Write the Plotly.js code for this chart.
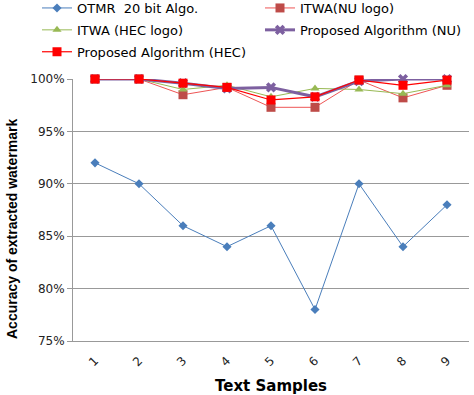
<!DOCTYPE html>
<html>
<head>
<meta charset="utf-8">
<script src="https://cdn.plot.ly/plotly-3.0.1.min.js"></script>
<style>html,body{margin:0;padding:0;background:#fff;}#chart{width:474px;height:395px;}</style>
</head>
<body>
<div id="chart"></div>
<script>
var samples = ['1','2','3','4','5','6','7','8','9'];
var otmr = [92, 90, 86, 84, 86, 78, 90, 84, 88];
var itwaNU = [100, 100, 98.5, 99.2, 97.3, 97.3, 99.9, 98.2, 99.4];
var itwaHEC = [100, 100, 99.0, 99.4, 98.3, 99.1, 99.0, 98.6, 99.4];
var propNU = [100, 100, 99.6, 99.1, 99.2, 98.3, 99.8, 100, 100];
var propHEC = [100, 100, 99.6, 99.2, 98.0, 98.3, 99.9, 99.4, 99.9];
var yTicks = [75, 80, 85, 90, 95, 100];
var yTickText = ['75%', '80%', '85%', '90%', '95%', '100%'];

var traces = [
  {x: samples, y: otmr, name: 'OTMR  20 bit Algo.', mode: 'lines+markers', legend: 'legend', legendgroup: 'a',
   line: {color: '#4a7ebb', width: 1}, marker: {symbol: 'diamond', size: 7, color: '#4a7ebb'}},
  {x: samples, y: itwaNU, name: 'ITWA(NU logo)', mode: 'lines+markers', legend: 'legend2', legendgroup: 'b',
   line: {color: '#ee5555', width: 1}, marker: {symbol: 'square', size: 9, color: '#be4b48'}},
  {x: samples, y: itwaHEC, name: 'ITWA (HEC logo)', mode: 'lines+markers', legend: 'legend', legendgroup: 'c',
   line: {color: '#98b954', width: 1}, marker: {symbol: 'triangle-up', size: 8, color: '#98b954'}},
  {x: samples, y: propNU, name: 'Proposed Algorithm (NU)', mode: 'lines+markers', legend: 'legend2', legendgroup: 'd',
   line: {color: '#7d60a0', width: 3}, marker: {symbol: 'x', size: 9, color: '#7d60a0'}},
  {x: samples, y: propHEC, name: 'Proposed Algorithm (HEC)', mode: 'lines+markers', legend: 'legend', legendgroup: 'e',
   line: {color: '#ff0000', width: 1.2}, marker: {symbol: 'square', size: 9, color: '#ff0000'}}
];
traces.forEach(function(t){ t.cliponaxis = false; });

var legFont = {family: 'DejaVu Sans', size: 13, color: '#000'};
var layout = {
  width: 474, height: 395,
  margin: {l: 73, r: 5, t: 79, b: 54, autoexpand: false},
  paper_bgcolor: '#fff', plot_bgcolor: '#fff',
  font: {family: 'DejaVu Sans, sans-serif', color: '#000'},
  showlegend: true,
  legend: {orientation: 'v', xref: 'container', yref: 'paper', x: 37/474, xanchor: 'left',
           y: 1 + 86/262, yanchor: 'top', tracegroupgap: 2, font: legFont, bgcolor: 'rgba(0,0,0,0)'},
  legend2: {orientation: 'v', xref: 'container', yref: 'paper', x: 260/474, xanchor: 'left',
           y: 1 + 86/262, yanchor: 'top', tracegroupgap: 2, font: legFont, bgcolor: 'rgba(0,0,0,0)'},
  xaxis: {type: 'category', range: [-0.5, 8.5], showgrid: false,
          showline: true, linecolor: '#999', linewidth: 1,
          ticks: '', tickangle: -45, ticklabelstandoff: 7, tickfont: {family: 'DejaVu Sans', size: 12, color: '#222'},
          title: {text: '<b>Text Samples</b>', font: {family: 'DejaVu Sans', size: 15, color: '#000'}, standoff: 13}},
  yaxis: {range: [75, 100], tickvals: yTicks, ticktext: yTickText,
          showgrid: true, gridcolor: '#999', gridwidth: 1,
          showline: true, linecolor: '#999', linewidth: 1,
          ticks: 'outside', ticklen: 5, tickcolor: '#999',
          tickfont: {family: 'DejaVu Sans', size: 12, color: '#222'}, zeroline: false},
  annotations: [
    {text: '<b>Accuracy of extracted watermark</b>', xref: 'paper', yref: 'paper',
     x: (12 - 73) / 396, y: (341 - 229) / 262, xanchor: 'center', yanchor: 'middle',
     textangle: -90, showarrow: false, font: {family: 'Liberation Sans', size: 14, color: '#000'}}
  ]
};
Plotly.newPlot('chart', traces, layout, {displayModeBar: false, staticPlot: true});
</script>
</body>
</html>
